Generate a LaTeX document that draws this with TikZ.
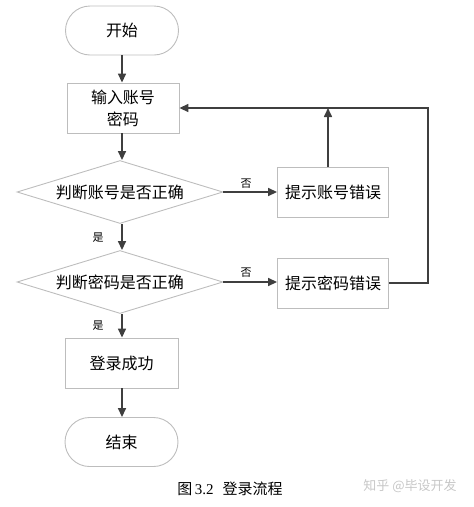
\documentclass[tikz,border=0pt]{standalone}
\usepackage{fontspec}
\setmainfont{Noto Sans CJK SC}
\newfontfamily\latinserif{Liberation Serif}
\usetikzlibrary{shapes.geometric,arrows.meta}
\definecolor{boxline}{HTML}{BDBDBD}
\definecolor{arrowline}{HTML}{3F3F3F}
\tikzset{
  proc/.style={draw=boxline, line width=0.9pt, rectangle, minimum width=112pt, minimum height=50pt, inner sep=0pt, align=center, font=\fontsize{16}{22}\selectfont},
  term/.style={draw=boxline, line width=0.9pt, rectangle, rounded corners=24.5pt, minimum width=113pt, minimum height=49pt, inner sep=0pt, font=\fontsize{16}{22}\selectfont},
  decide/.style={draw=boxline, line width=0.9pt, diamond, shape aspect=3.27, minimum width=206pt, minimum height=63pt, inner sep=0pt, font=\fontsize{16}{22}\selectfont},
  flow/.style={draw=arrowline, line width=1.6pt, -{Triangle[length=9pt,width=8pt]}},
  lbl/.style={font=\fontsize{11}{13}\selectfont, inner sep=0pt}
}
\begin{document}
\begin{tikzpicture}[x=1pt,y=-1pt]
\useasboundingbox (0,0) rectangle (474,507);
\node[term] (start) at (122,30.5) {开始};
\node[proc] (input) at (123,108) {输入账号\\密码};
\node[decide] (d1) at (120,192) {判断账号是否正确};
\node[proc, minimum width=111pt] (e1) at (333,192.5) {提示账号错误};
\node[decide] (d2) at (120,282) {判断密码是否正确};
\node[proc, minimum width=111pt] (e2) at (333,283) {提示密码错误};
\node[proc, minimum width=113pt] (ok) at (121.5,363) {登录成功};
\node[term] (stop) at (121.5,442) {结束};
\coordinate (loop) at (428,108);

\draw[flow] (start.south -| 122,0) -- (input.north -| 122,0);
\draw[flow] (input.south -| 122,0) -- (d1.north -| 122,0);
\draw[flow] (d1.south -| 122,0) -- (d2.north -| 122,0);
\draw[flow] (d2.south -| 122,0) -- (ok.north -| 122,0);
\draw[flow] (ok.south -| 122,0) -- (stop.north -| 122,0);
\draw[flow] (d1.east) -- (d1.east -| e1.west);
\draw[flow] (d2.east) -- (d2.east -| e2.west);
\draw[flow] (e1.north -| 328,0) -- (328,108);
\draw[flow] (e2.east) -- (e2.east -| loop) -- (loop) -- (input.east);

\node[lbl] (no1) at (246,184) {否};
\node[lbl] (no2) at (246,273) {否};
\node[lbl] (yes1) at (98,238) {是};
\node[lbl] (yes2) at (98,326) {是};

\node[font=\fontsize{15}{18}\selectfont, inner sep=0pt] (cap) at (230,489) {图\,{\latinserif 3.2}\hspace{0.6em}登录流程};
\node[font=\fontsize{13}{15}\selectfont, text=black!22, inner sep=0pt] (wm) at (410,486) {知乎 @毕设开发};
\end{tikzpicture}
\end{document}
